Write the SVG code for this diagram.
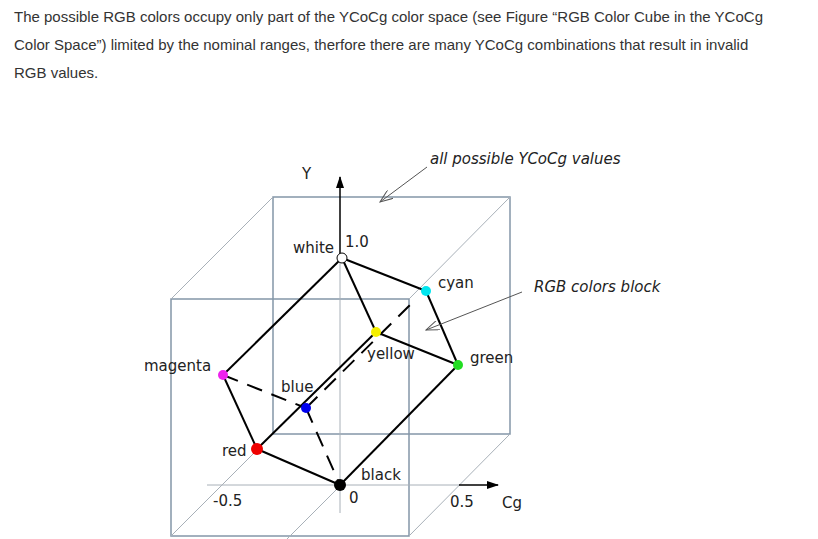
<svg xmlns="http://www.w3.org/2000/svg" width="818" height="539" viewBox="0 0 818 539">
<style>
.p{font-family:"Liberation Sans",Arial,sans-serif;font-size:15px;fill:#333}
.l{font-family:"DejaVu Sans",sans-serif;font-size:15px;fill:#222}
.i{font-style:italic}
.box{fill:none;stroke:#8496a8;stroke-width:1.5}
.thin{stroke:#a8b0b8;stroke-width:1;fill:none}
.e{stroke:#000;stroke-width:2;fill:none}
.d{stroke:#000;stroke-width:2;fill:none;stroke-dasharray:16,10}
.ptr{stroke:#555;stroke-width:1;fill:none}
</style>
<defs>
<marker id="ah" markerWidth="12" markerHeight="8" refX="11" refY="4" orient="auto" markerUnits="userSpaceOnUse"><path d="M0,0 L12,4 L0,8 z" fill="#000"/></marker>
<marker id="oa" markerWidth="14" markerHeight="10" refX="13" refY="5" orient="auto" markerUnits="userSpaceOnUse"><path d="M0,0 L13,5 L0,10" fill="none" stroke="#555"/></marker>
</defs>
<rect width="818" height="539" fill="#fff"/>
<text class="p" x="14" y="22">The possible RGB colors occupy only part of the YCoCg color space (see Figure “RGB Color Cube in the YCoCg</text>
<text class="p" x="14" y="50">Color Space”) limited by the nominal ranges, therfore there are many YCoCg combinations that result in invalid</text>
<text class="p" x="14" y="78">RGB values.</text>
<g id="cube">
<rect class="box" x="273" y="197" width="237" height="237"/>
<rect class="box" x="171" y="299" width="238" height="237"/>
<line class="thin" x1="171" y1="299" x2="273" y2="197"/>
<line class="thin" x1="409" y1="299" x2="510" y2="197"/>
<line class="thin" x1="409" y1="536" x2="510" y2="434"/>
<line class="thin" x1="171" y1="536" x2="273" y2="434"/>
<line class="thin" x1="340" y1="486" x2="285" y2="541"/>
</g>
<g id="axes">
<line class="thin" x1="340" y1="258" x2="340" y2="513"/>
<line class="thin" x1="207" y1="485" x2="460" y2="485"/>
<line x1="340" y1="258" x2="340" y2="177" stroke="#000" stroke-width="1.5" marker-end="url(#ah)"/>
<line x1="459" y1="485" x2="498" y2="485" stroke="#000" stroke-width="1.5" marker-end="url(#ah)"/>
</g>
<g id="connectors">
<line class="e" x1="342" y1="258" x2="426" y2="291"/>
<line class="e" x1="342" y1="258" x2="376" y2="332"/>
<line class="e" x1="342" y1="258" x2="223" y2="375"/>
<line class="e" x1="426" y1="291" x2="458" y2="365"/>
<line class="e" x1="376" y1="332" x2="458" y2="365"/>
<line class="e" x1="458" y1="365" x2="340" y2="485"/>
<line class="e" x1="223" y1="375" x2="257" y2="449"/>
<line class="e" x1="257" y1="449" x2="340" y2="485"/>
<line class="e" x1="257" y1="449" x2="376" y2="332"/>
<line class="d" x1="223" y1="375" x2="306" y2="408"/>
<line class="d" x1="306" y1="408" x2="340" y2="485"/>
<line class="d" x1="306" y1="408" x2="412" y2="303"/>
<line class="ptr" x1="427" y1="167" x2="380" y2="202" marker-end="url(#oa)"/>
<line class="ptr" x1="522" y1="292" x2="426" y2="330" marker-end="url(#oa)"/>
</g>
<g id="white"><circle cx="342" cy="258" r="5" fill="#fff" stroke="#000"/><text class="l" x="293" y="253">white</text></g>
<g id="cyan"><circle cx="426" cy="291" r="5" fill="#00e5ee"/><text class="l" x="438" y="288">cyan</text></g>
<g id="yellow"><circle cx="376" cy="332" r="5" fill="#f5f000"/><text class="l" x="367" y="359">yellow</text></g>
<g id="green"><circle cx="458" cy="365" r="5" fill="#22dd22"/><text class="l" x="470" y="363">green</text></g>
<g id="magenta"><circle cx="223" cy="375" r="5" fill="#ee22ee"/><text class="l" x="144" y="371">magenta</text></g>
<g id="blue"><circle cx="306" cy="408" r="5" fill="#0000ee"/><text class="l" x="281" y="392">blue</text></g>
<g id="red"><circle cx="257" cy="449" r="6" fill="#ee0000"/><text class="l" x="222" y="456">red</text></g>
<g id="black"><circle cx="340" cy="485" r="6" fill="#000"/><text class="l" x="361" y="480">black</text></g>
<g id="labels">
<text class="l" x="302" y="179">Y</text>
<text class="l" x="345" y="247">1.0</text>
<text class="l" x="349" y="503" font-size="14">0</text>
<text class="l" x="213" y="506">-0.5</text>
<text class="l" x="450" y="507">0.5</text>
<text class="l" x="502" y="508">Cg</text>
<text class="l i" x="430" y="164">all possible YCoCg values</text>
<text class="l i" x="534" y="292">RGB colors block</text>
</g>
</svg>
